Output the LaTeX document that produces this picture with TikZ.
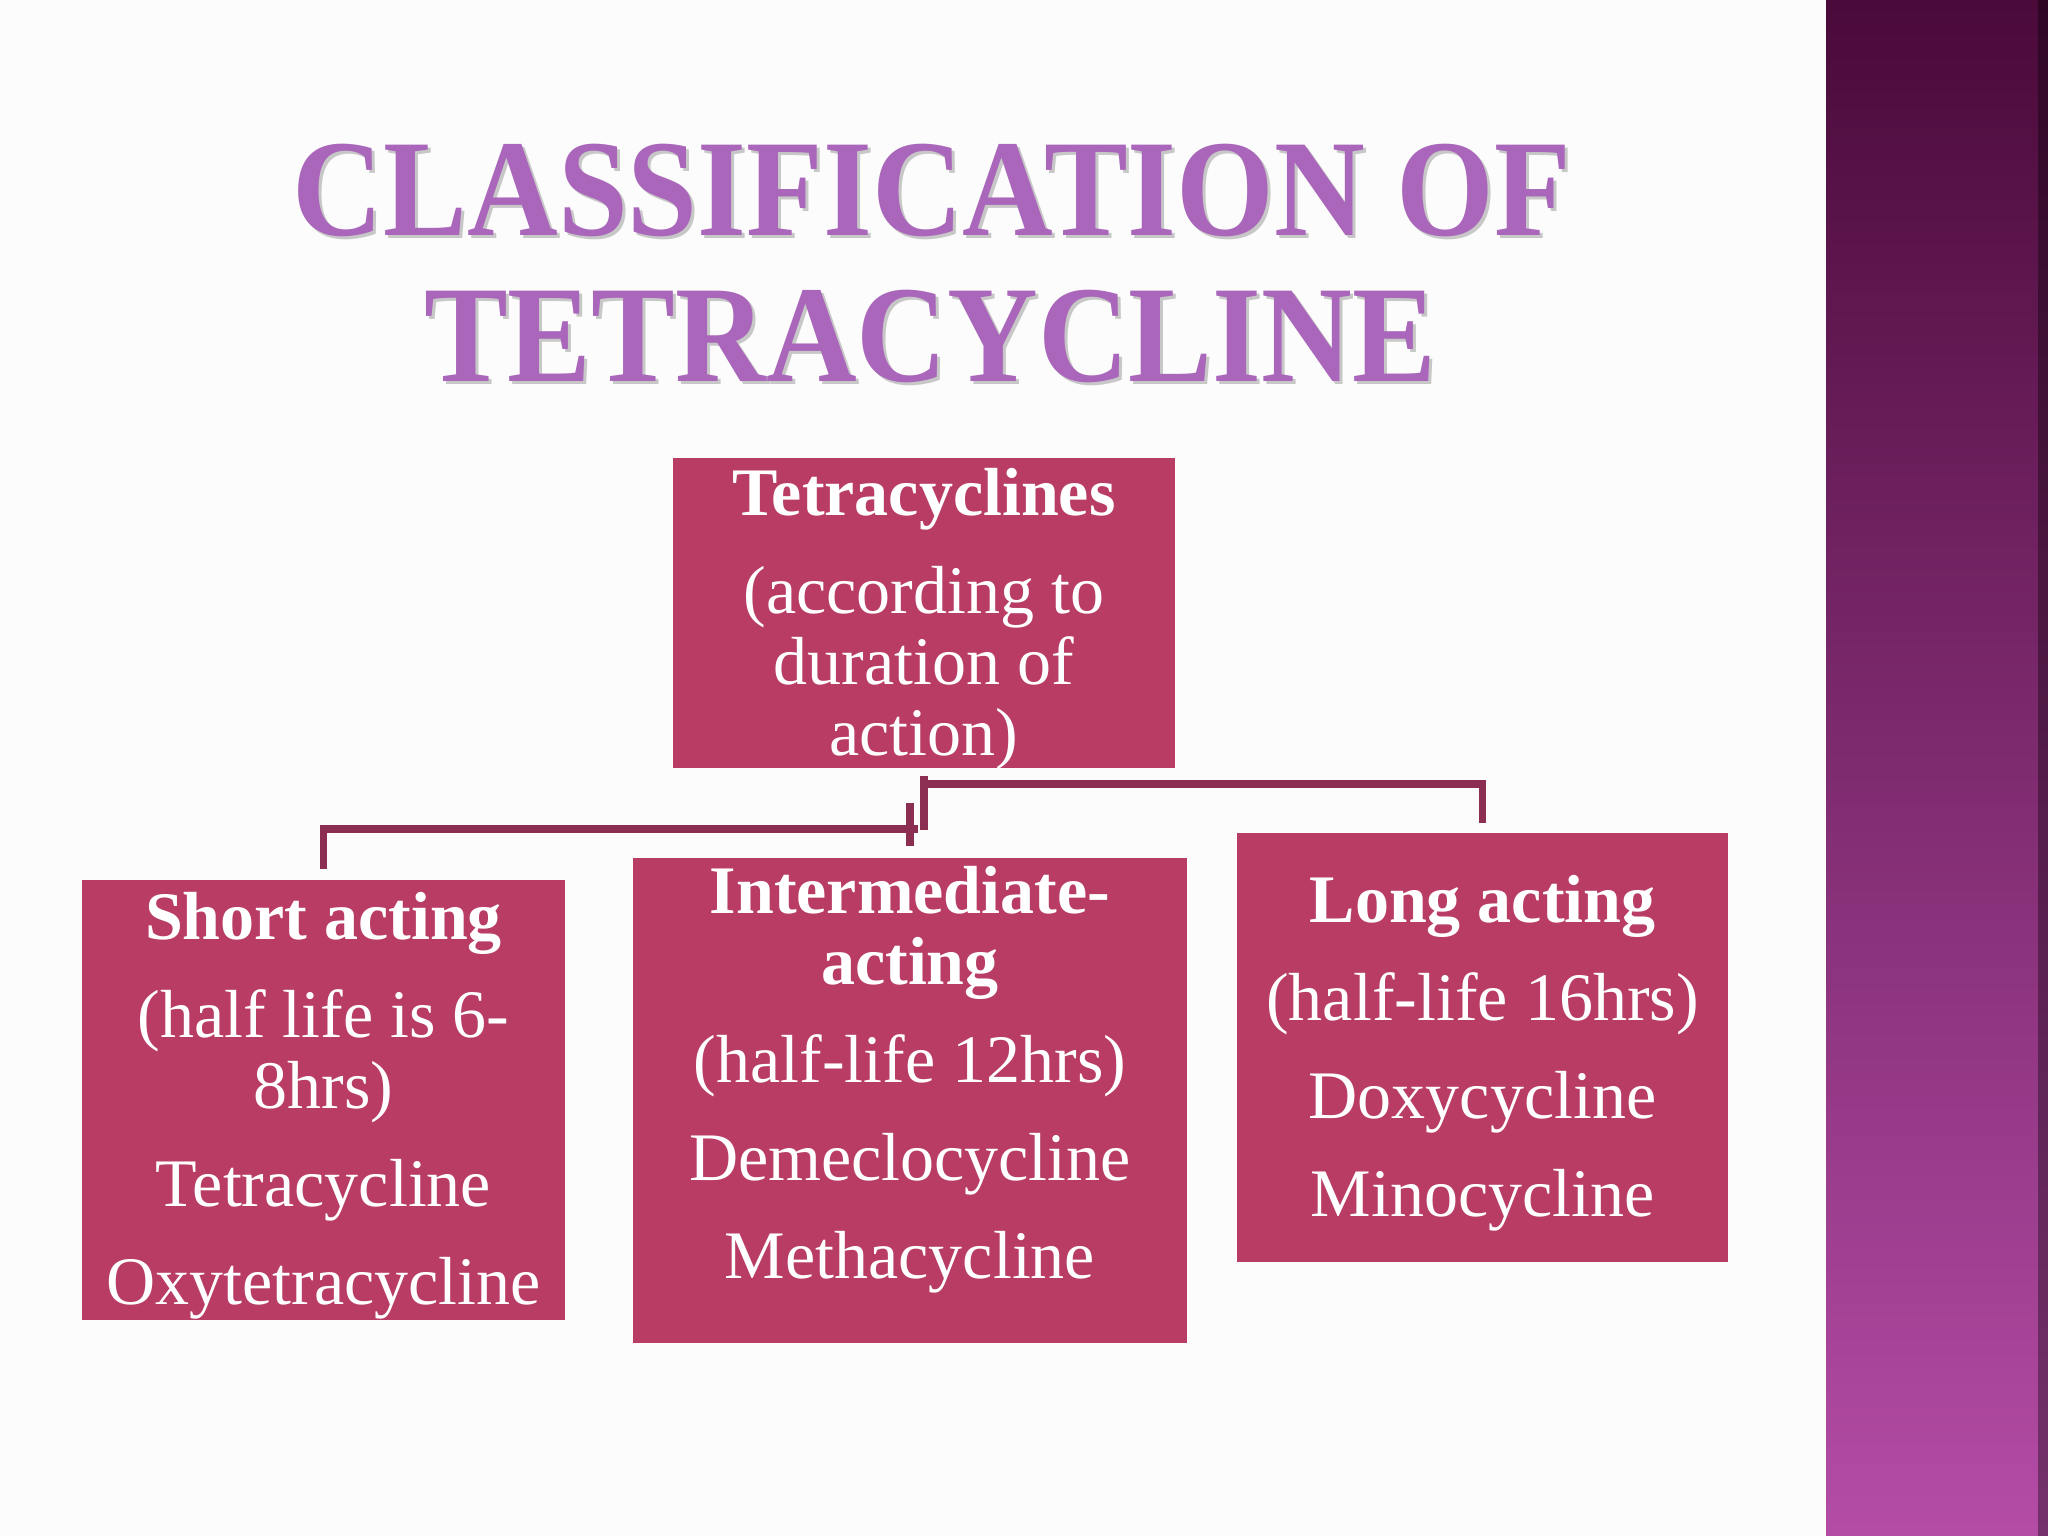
\documentclass[tikz,border=0pt]{standalone}
\usepackage{fontspec}
\setmainfont{Liberation Serif}
\usepackage{xcolor}

\definecolor{titlepurple}{RGB}{169,102,186}
\definecolor{boxrose}{RGB}{184,60,100}
\definecolor{linkwine}{RGB}{140,45,82}
\definecolor{bandtop}{RGB}{74,10,58}
\definecolor{bandmid}{RGB}{132,46,114}
\definecolor{bandbot}{RGB}{180,76,166}

\tikzset{
	box/.style={fill=boxrose, draw=none, inner sep=0pt},
	boxtext/.style={text=white, align=center, inner sep=0pt, font=\fontsize{68}{71}\selectfont},
	titletext/.style={anchor=base, text=titlepurple, font=\fontsize{138}{140}\selectfont\bfseries},
	link/.style={draw=linkwine, line width=7.5pt},
}

\begin{document}
\begin{tikzpicture}[x=1pt, y=-1pt]
	\useasboundingbox (0,0) rectangle (2048,1536);
	\fill[white!99!black] (0,0) rectangle (1826,1536);
	\shade[top color=bandtop, middle color=bandmid, bottom color=bandbot] (1826,0) rectangle (2048,1536);
	\fill[black, opacity=.35] (2038,0) rectangle (2048,1536);

	% title
	\node[titletext, text=black!22] (shadow1) at (935,238) {\scalebox{0.91}[1]{CLASSIFICATION OF}};
	\node[titletext, text=black!22] (shadow2) at (933,384) {\scalebox{0.91}[1]{TETRACYCLINE}};
	\node[titletext] (title1) at (932,235) {\scalebox{0.91}[1]{CLASSIFICATION OF}};
	\node[titletext] (title2) at (930,381) {\scalebox{0.91}[1]{TETRACYCLINE}};

	% boxes
	\node[box, minimum width=502pt, minimum height=310pt] (top) at (924,613) {};
	\node[box, minimum width=483pt, minimum height=440pt] (short) at (323.5,1100) {};
	\node[box, minimum width=554pt, minimum height=485pt] (mid) at (910,1100.5) {};
	\node[box, minimum width=491pt, minimum height=429pt] (long) at (1482.5,1047.5) {};

	\node[boxtext] (toptext) at ([yshift=-6pt]top.center) {\textbf{Tetracyclines}\\[27pt](according to\\duration of\\action)};
	\node[boxtext] (shorttext) at ([yshift=-6pt]short.center) {\textbf{Short acting}\\[27pt](half life is 6-\\8hrs)\\[27pt]Tetracycline\\[27pt]Oxytetracycline};
	\node[boxtext] (midtext) at ([yshift=21pt]mid.center) {\textbf{Intermediate-}\\\textbf{acting}\\[27pt](half-life 12hrs)\\[27pt]Demeclocycline\\[27pt]Methacycline};
	\node[boxtext] (longtext) at ([yshift=-6pt]long.center) {\textbf{Long acting}\\[27pt](half-life 16hrs)\\[27pt]Doxycycline\\[27pt]Minocycline};

	% connectors
	\draw[link] ([yshift=-8pt]top.south) -- ([yshift=-62pt]top.south);
	\draw[link] ([yshift=-16pt]top.south) -| ([yshift=10pt]long.north);
	\draw[link] ([yshift=11pt]short.north) |- ([xshift=-6pt, yshift=-61pt]top.south);
	\draw[link] ([yshift=12pt]mid.north) -- ([yshift=55pt]mid.north);
\end{tikzpicture}
\end{document}
